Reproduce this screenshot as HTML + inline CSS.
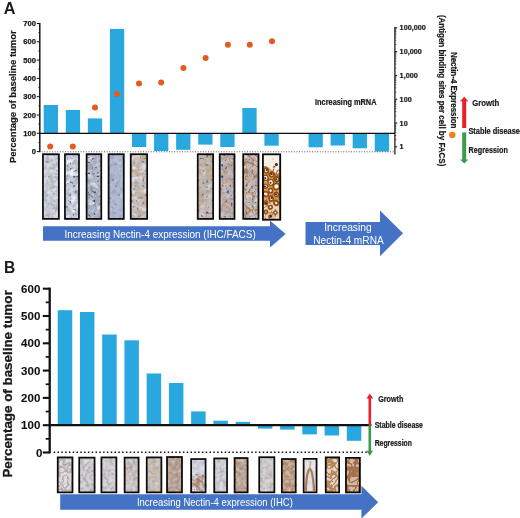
<!DOCTYPE html>
<html lang="en"><head><meta charset="utf-8"><title>Figure</title>
<style>
html,body{margin:0;padding:0;background:#fff;}
body{width:520px;height:518px;overflow:hidden;font-family:'Liberation Sans', sans-serif;}
svg{display:block;font-family:'Liberation Sans', sans-serif;}
</style></head><body>
<svg width="520" height="518" viewBox="0 0 520 518">
<rect width="520" height="518" fill="#fff"/>
<defs>
<filter id="tb" x="0" y="0" width="100%" height="100%" color-interpolation-filters="sRGB"><feTurbulence type="fractalNoise" baseFrequency="0.2" numOctaves="2" seed="4" result="n"/><feColorMatrix in="n" values="0 0 0 0 0.55  0 0 0 0 0.60  0 0 0 0 0.71  2.8 0 0 0 -1.2"/><feComposite in2="SourceGraphic" operator="in"/></filter>
<filter id="tg" x="0" y="0" width="100%" height="100%" color-interpolation-filters="sRGB"><feTurbulence type="fractalNoise" baseFrequency="0.3" numOctaves="2" seed="17" result="n"/><feColorMatrix in="n" values="0 0 0 0 0.56  0 0 0 0 0.54  0 0 0 0 0.57  3.0 0 0 0 -1.25"/><feComposite in2="SourceGraphic" operator="in"/></filter>
<filter id="td" x="0" y="0" width="100%" height="100%" color-interpolation-filters="sRGB"><feTurbulence type="fractalNoise" baseFrequency="0.33" numOctaves="1" seed="21" result="n"/><feColorMatrix in="n" values="0 0 0 0 0.20  0 0 0 0 0.22  0 0 0 0 0.34  0 8 0 0 -5.05"/><feComposite in2="SourceGraphic" operator="in"/></filter>
<filter id="tw" x="0" y="0" width="100%" height="100%" color-interpolation-filters="sRGB"><feTurbulence type="fractalNoise" baseFrequency="0.17" numOctaves="2" seed="9" result="n"/><feColorMatrix in="n" values="0 0 0 0 0.97  0 0 0 0 0.97  0 0 0 0 0.98  0 0 3.6 0 -1.75"/><feComposite in2="SourceGraphic" operator="in"/></filter>
<filter id="tt" x="0" y="0" width="100%" height="100%" color-interpolation-filters="sRGB"><feTurbulence type="fractalNoise" baseFrequency="0.14 0.08" numOctaves="2" seed="41" result="n"/><feColorMatrix in="n" values="0 0 0 0 0.75  0 0 0 0 0.65  0 0 0 0 0.54  0 3.0 0 0 -1.2"/><feComposite in2="SourceGraphic" operator="in"/></filter>
<filter id="tr" x="0" y="0" width="100%" height="100%" color-interpolation-filters="sRGB"><feTurbulence type="turbulence" baseFrequency="0.15" numOctaves="2" seed="14" result="n"/><feColorMatrix in="n" values="0 0 0 0 0.68  0 0 0 0 0.41  0 0 0 0 0.18  -6 0 0 0 1.2"/><feComposite in2="SourceGraphic" operator="in"/></filter>
<filter id="tr2" x="0" y="0" width="100%" height="100%" color-interpolation-filters="sRGB"><feTurbulence type="turbulence" baseFrequency="0.3" numOctaves="2" seed="52" result="n"/><feColorMatrix in="n" values="0 0 0 0 0.60  0 0 0 0 0.39  0 0 0 0 0.24  -4.5 0 0 0 1.2"/><feComposite in2="SourceGraphic" operator="in"/></filter>
<filter id="tbr" x="0" y="0" width="100%" height="100%" color-interpolation-filters="sRGB"><feTurbulence type="fractalNoise" baseFrequency="0.24" numOctaves="2" seed="77" result="n"/><feColorMatrix in="n" values="0 0 0 0 0.66  0 0 0 0 0.51  0 0 0 0 0.41  0 0 3.2 0 -1.3"/><feComposite in2="SourceGraphic" operator="in"/></filter>
<filter id="bl" x="-20%" y="-20%" width="140%" height="140%"><feGaussianBlur stdDeviation="0.5"/></filter>
<filter id="tc" x="0" y="0" width="100%" height="100%" color-interpolation-filters="sRGB"><feTurbulence type="turbulence" baseFrequency="0.22" numOctaves="1" seed="33" result="n"/><feColorMatrix in="n" values="0 0 0 0 0.97  0 0 0 0 0.95  0 0 0 0 0.94  0 9 0 0 -1.1"/><feComposite in2="SourceGraphic" operator="in"/></filter>
</defs>
<text x="3.8" y="14.1" font-size="16.2" font-weight="bold" fill="#1a1a1a" text-anchor="start" >A</text>
<text x="15.5" y="163.0" font-size="9.0" font-weight="bold" fill="#1a1a1a" text-anchor="start" textLength="132.8" lengthAdjust="spacingAndGlyphs" transform="rotate(-90 15.5 163.0)"  stroke="#1a1a1a" stroke-width="0.22">Percentage of baseline tumor</text>
<line x1="39.8" y1="23.00" x2="39.8" y2="152.3" stroke="#111" stroke-width="1.45"/>
<line x1="36.8" y1="151.60" x2="39.8" y2="151.60" stroke="#111" stroke-width="1"/>
<text x="35.9" y="154.2" font-size="7.6" font-weight="bold" fill="#1a1a1a" text-anchor="end" stroke="#1a1a1a" stroke-width="0.25">0</text>
<line x1="38.4" y1="142.45" x2="39.8" y2="142.45" stroke="#111" stroke-width="0.8"/>
<line x1="36.8" y1="133.30" x2="39.8" y2="133.30" stroke="#111" stroke-width="1"/>
<text x="35.9" y="135.9" font-size="7.6" font-weight="bold" fill="#1a1a1a" text-anchor="end" stroke="#1a1a1a" stroke-width="0.25">100</text>
<line x1="38.4" y1="124.15" x2="39.8" y2="124.15" stroke="#111" stroke-width="0.8"/>
<line x1="36.8" y1="115.00" x2="39.8" y2="115.00" stroke="#111" stroke-width="1"/>
<text x="35.9" y="117.6" font-size="7.6" font-weight="bold" fill="#1a1a1a" text-anchor="end" stroke="#1a1a1a" stroke-width="0.25">200</text>
<line x1="38.4" y1="105.85" x2="39.8" y2="105.85" stroke="#111" stroke-width="0.8"/>
<line x1="36.8" y1="96.70" x2="39.8" y2="96.70" stroke="#111" stroke-width="1"/>
<text x="35.9" y="99.3" font-size="7.6" font-weight="bold" fill="#1a1a1a" text-anchor="end" stroke="#1a1a1a" stroke-width="0.25">300</text>
<line x1="38.4" y1="87.55" x2="39.8" y2="87.55" stroke="#111" stroke-width="0.8"/>
<line x1="36.8" y1="78.40" x2="39.8" y2="78.40" stroke="#111" stroke-width="1"/>
<text x="35.9" y="81.0" font-size="7.6" font-weight="bold" fill="#1a1a1a" text-anchor="end" stroke="#1a1a1a" stroke-width="0.25">400</text>
<line x1="38.4" y1="69.25" x2="39.8" y2="69.25" stroke="#111" stroke-width="0.8"/>
<line x1="36.8" y1="60.10" x2="39.8" y2="60.10" stroke="#111" stroke-width="1"/>
<text x="35.9" y="62.7" font-size="7.6" font-weight="bold" fill="#1a1a1a" text-anchor="end" stroke="#1a1a1a" stroke-width="0.25">500</text>
<line x1="38.4" y1="50.95" x2="39.8" y2="50.95" stroke="#111" stroke-width="0.8"/>
<line x1="36.8" y1="41.80" x2="39.8" y2="41.80" stroke="#111" stroke-width="1"/>
<text x="35.9" y="44.4" font-size="7.6" font-weight="bold" fill="#1a1a1a" text-anchor="end" stroke="#1a1a1a" stroke-width="0.25">600</text>
<line x1="38.4" y1="32.65" x2="39.8" y2="32.65" stroke="#111" stroke-width="0.8"/>
<line x1="36.8" y1="23.50" x2="39.8" y2="23.50" stroke="#111" stroke-width="1"/>
<text x="35.9" y="26.1" font-size="7.6" font-weight="bold" fill="#1a1a1a" text-anchor="end" stroke="#1a1a1a" stroke-width="0.25">700</text>
<rect x="43.70" y="105.00" width="14.3" height="28.30" fill="#29a8e0"/>
<rect x="65.77" y="110.00" width="14.3" height="23.30" fill="#29a8e0"/>
<rect x="87.84" y="118.40" width="14.3" height="14.90" fill="#29a8e0"/>
<rect x="109.91" y="28.90" width="14.3" height="104.40" fill="#29a8e0"/>
<rect x="131.98" y="133.30" width="14.3" height="13.70" fill="#29a8e0"/>
<rect x="154.05" y="133.30" width="14.3" height="17.70" fill="#29a8e0"/>
<rect x="176.12" y="133.30" width="14.3" height="16.50" fill="#29a8e0"/>
<rect x="198.19" y="133.30" width="14.3" height="11.30" fill="#29a8e0"/>
<rect x="220.26" y="133.30" width="14.3" height="13.70" fill="#29a8e0"/>
<rect x="242.33" y="108.00" width="14.3" height="25.30" fill="#29a8e0"/>
<rect x="264.40" y="133.30" width="14.3" height="12.40" fill="#29a8e0"/>
<rect x="308.54" y="133.30" width="14.3" height="14.00" fill="#29a8e0"/>
<rect x="330.61" y="133.30" width="14.3" height="12.20" fill="#29a8e0"/>
<rect x="352.68" y="133.30" width="14.3" height="15.00" fill="#29a8e0"/>
<rect x="374.75" y="133.30" width="14.3" height="18.20" fill="#29a8e0"/>
<line x1="39.8" y1="133.3" x2="395" y2="133.3" stroke="#0c0c0c" stroke-width="1.3"/>
<line x1="41.6" y1="151.8" x2="394" y2="151.8" stroke="#444" stroke-width="0.9" stroke-dasharray="1 1.6"/>
<line x1="394.9" y1="27" x2="394.9" y2="154.6" stroke="#111" stroke-width="1.2"/>
<line x1="394.9" y1="146.80" x2="397.2" y2="146.80" stroke="#111" stroke-width="1"/>
<line x1="394.9" y1="139.64" x2="396.3" y2="139.64" stroke="#111" stroke-width="0.6"/>
<line x1="394.9" y1="135.44" x2="396.3" y2="135.44" stroke="#111" stroke-width="0.6"/>
<line x1="394.9" y1="132.47" x2="396.3" y2="132.47" stroke="#111" stroke-width="0.6"/>
<line x1="394.9" y1="130.16" x2="396.3" y2="130.16" stroke="#111" stroke-width="0.6"/>
<line x1="394.9" y1="128.28" x2="396.3" y2="128.28" stroke="#111" stroke-width="0.6"/>
<line x1="394.9" y1="126.69" x2="396.3" y2="126.69" stroke="#111" stroke-width="0.6"/>
<line x1="394.9" y1="125.31" x2="396.3" y2="125.31" stroke="#111" stroke-width="0.6"/>
<line x1="394.9" y1="124.09" x2="396.3" y2="124.09" stroke="#111" stroke-width="0.6"/>
<line x1="394.9" y1="123.00" x2="397.2" y2="123.00" stroke="#111" stroke-width="1"/>
<line x1="394.9" y1="115.84" x2="396.3" y2="115.84" stroke="#111" stroke-width="0.6"/>
<line x1="394.9" y1="111.64" x2="396.3" y2="111.64" stroke="#111" stroke-width="0.6"/>
<line x1="394.9" y1="108.67" x2="396.3" y2="108.67" stroke="#111" stroke-width="0.6"/>
<line x1="394.9" y1="106.36" x2="396.3" y2="106.36" stroke="#111" stroke-width="0.6"/>
<line x1="394.9" y1="104.48" x2="396.3" y2="104.48" stroke="#111" stroke-width="0.6"/>
<line x1="394.9" y1="102.89" x2="396.3" y2="102.89" stroke="#111" stroke-width="0.6"/>
<line x1="394.9" y1="101.51" x2="396.3" y2="101.51" stroke="#111" stroke-width="0.6"/>
<line x1="394.9" y1="100.29" x2="396.3" y2="100.29" stroke="#111" stroke-width="0.6"/>
<line x1="394.9" y1="99.20" x2="397.2" y2="99.20" stroke="#111" stroke-width="1"/>
<line x1="394.9" y1="92.04" x2="396.3" y2="92.04" stroke="#111" stroke-width="0.6"/>
<line x1="394.9" y1="87.84" x2="396.3" y2="87.84" stroke="#111" stroke-width="0.6"/>
<line x1="394.9" y1="84.87" x2="396.3" y2="84.87" stroke="#111" stroke-width="0.6"/>
<line x1="394.9" y1="82.56" x2="396.3" y2="82.56" stroke="#111" stroke-width="0.6"/>
<line x1="394.9" y1="80.68" x2="396.3" y2="80.68" stroke="#111" stroke-width="0.6"/>
<line x1="394.9" y1="79.09" x2="396.3" y2="79.09" stroke="#111" stroke-width="0.6"/>
<line x1="394.9" y1="77.71" x2="396.3" y2="77.71" stroke="#111" stroke-width="0.6"/>
<line x1="394.9" y1="76.49" x2="396.3" y2="76.49" stroke="#111" stroke-width="0.6"/>
<line x1="394.9" y1="75.40" x2="397.2" y2="75.40" stroke="#111" stroke-width="1"/>
<line x1="394.9" y1="68.24" x2="396.3" y2="68.24" stroke="#111" stroke-width="0.6"/>
<line x1="394.9" y1="64.04" x2="396.3" y2="64.04" stroke="#111" stroke-width="0.6"/>
<line x1="394.9" y1="61.07" x2="396.3" y2="61.07" stroke="#111" stroke-width="0.6"/>
<line x1="394.9" y1="58.76" x2="396.3" y2="58.76" stroke="#111" stroke-width="0.6"/>
<line x1="394.9" y1="56.88" x2="396.3" y2="56.88" stroke="#111" stroke-width="0.6"/>
<line x1="394.9" y1="55.29" x2="396.3" y2="55.29" stroke="#111" stroke-width="0.6"/>
<line x1="394.9" y1="53.91" x2="396.3" y2="53.91" stroke="#111" stroke-width="0.6"/>
<line x1="394.9" y1="52.69" x2="396.3" y2="52.69" stroke="#111" stroke-width="0.6"/>
<line x1="394.9" y1="51.60" x2="397.2" y2="51.60" stroke="#111" stroke-width="1"/>
<line x1="394.9" y1="44.44" x2="396.3" y2="44.44" stroke="#111" stroke-width="0.6"/>
<line x1="394.9" y1="40.24" x2="396.3" y2="40.24" stroke="#111" stroke-width="0.6"/>
<line x1="394.9" y1="37.27" x2="396.3" y2="37.27" stroke="#111" stroke-width="0.6"/>
<line x1="394.9" y1="34.96" x2="396.3" y2="34.96" stroke="#111" stroke-width="0.6"/>
<line x1="394.9" y1="33.08" x2="396.3" y2="33.08" stroke="#111" stroke-width="0.6"/>
<line x1="394.9" y1="31.49" x2="396.3" y2="31.49" stroke="#111" stroke-width="0.6"/>
<line x1="394.9" y1="30.11" x2="396.3" y2="30.11" stroke="#111" stroke-width="0.6"/>
<line x1="394.9" y1="28.89" x2="396.3" y2="28.89" stroke="#111" stroke-width="0.6"/>
<line x1="394.9" y1="27.80" x2="397.2" y2="27.80" stroke="#111" stroke-width="1"/>
<text x="399.6" y="149.4" font-size="7.25" font-weight="bold" fill="#1a1a1a" text-anchor="start"  stroke="#1a1a1a" stroke-width="0.22">1</text>
<text x="399.6" y="125.6" font-size="7.25" font-weight="bold" fill="#1a1a1a" text-anchor="start"  stroke="#1a1a1a" stroke-width="0.22">10</text>
<text x="399.6" y="101.8" font-size="7.25" font-weight="bold" fill="#1a1a1a" text-anchor="start"  stroke="#1a1a1a" stroke-width="0.22">100</text>
<text x="399.6" y="78.0" font-size="7.25" font-weight="bold" fill="#1a1a1a" text-anchor="start"  stroke="#1a1a1a" stroke-width="0.22">1,000</text>
<text x="399.6" y="54.2" font-size="7.25" font-weight="bold" fill="#1a1a1a" text-anchor="start"  stroke="#1a1a1a" stroke-width="0.22">10,000</text>
<text x="399.6" y="30.4" font-size="7.25" font-weight="bold" fill="#1a1a1a" text-anchor="start"  stroke="#1a1a1a" stroke-width="0.22">100,000</text>
<circle cx="50.2" cy="146.6" r="3.0" fill="#e55a1f"/>
<circle cx="72.8" cy="146.6" r="3.0" fill="#e55a1f"/>
<circle cx="95" cy="107.5" r="3.0" fill="#e55a1f"/>
<circle cx="117" cy="94" r="3.0" fill="#e55a1f"/>
<circle cx="139" cy="83.4" r="3.0" fill="#e55a1f"/>
<circle cx="161.2" cy="82.4" r="3.0" fill="#e55a1f"/>
<circle cx="183.4" cy="68.1" r="3.0" fill="#e55a1f"/>
<circle cx="205.6" cy="57.9" r="3.0" fill="#e55a1f"/>
<circle cx="227.9" cy="44.8" r="3.0" fill="#e55a1f"/>
<circle cx="249.8" cy="44.8" r="3.0" fill="#e55a1f"/>
<circle cx="272" cy="41.2" r="3.0" fill="#e55a1f"/>
<text x="315" y="104.6" font-size="8.6" font-weight="bold" fill="#1a1a1a" text-anchor="start" textLength="61.5" lengthAdjust="spacingAndGlyphs"  stroke="#1a1a1a" stroke-width="0.22">Increasing mRNA</text>
<text x="438.6" y="14.9" font-size="9.2" font-weight="bold" fill="#1a1a1a" text-anchor="start" textLength="151.4" lengthAdjust="spacingAndGlyphs" transform="rotate(90 438.6 14.9)"  stroke="#1a1a1a" stroke-width="0.22">(Antigen binding sites per cell by FACS)</text>
<text x="450.6" y="51.9" font-size="9.2" font-weight="bold" fill="#1a1a1a" text-anchor="start" textLength="76.6" lengthAdjust="spacingAndGlyphs" transform="rotate(90 450.6 51.9)"  stroke="#1a1a1a" stroke-width="0.22">Nectin-4 Expression</text>
<ellipse cx="452.3" cy="134.9" rx="3.2" ry="3.2" fill="#f07f1e"/>
<polygon points="462.2,128 462.2,101.2 460.0,101.2 464.2,96.8 468.4,101.2 466.2,101.2 466.2,128" fill="#e8202a"/>
<polygon points="462.2,132.6 462.2,159.4 460.0,159.4 464.2,163.4 468.4,159.4 466.2,159.4 466.2,132.6" fill="#3c9a4a"/>
<text x="472.2" y="106.4" font-size="8.6" font-weight="bold" fill="#1a1a1a" text-anchor="start" textLength="27" lengthAdjust="spacingAndGlyphs"  stroke="#1a1a1a" stroke-width="0.22">Growth</text>
<text x="468.4" y="133.8" font-size="8.6" font-weight="bold" fill="#1a1a1a" text-anchor="start" textLength="51.6" lengthAdjust="spacingAndGlyphs"  stroke="#1a1a1a" stroke-width="0.22">Stable disease</text>
<text x="468.6" y="153.3" font-size="8.6" font-weight="bold" fill="#1a1a1a" text-anchor="start" textLength="39.2" lengthAdjust="spacingAndGlyphs"  stroke="#1a1a1a" stroke-width="0.22">Regression</text>
<g>
<rect x="42.10" y="153.40" width="17.60" height="66.30" fill="#d3d5dd"/>
<rect x="42.10" y="153.40" width="17.60" height="66.30" fill="#fff" filter="url(#tg)" opacity="0.4"/>
<rect x="42.10" y="153.40" width="17.60" height="66.30" fill="#fff" filter="url(#tb)" opacity="0.5"/>
<rect x="42.10" y="153.40" width="17.60" height="66.30" fill="#fff" filter="url(#tw)" opacity="0.4"/>
<rect x="42.10" y="153.40" width="17.60" height="66.30" fill="#fff" filter="url(#td)" opacity="0.3"/>
<rect x="42.95" y="154.25" width="15.90" height="64.60" fill="none" stroke="#0a0a0a" stroke-width="1.7"/>
</g>
<g>
<rect x="64.10" y="153.40" width="15.70" height="66.30" fill="#c7cbd8"/>
<rect x="64.10" y="153.40" width="15.70" height="66.30" fill="#fff" filter="url(#tb)" opacity="0.8"/>
<rect x="64.10" y="153.40" width="15.70" height="66.30" fill="#fff" filter="url(#tw)" opacity="0.9"/>
<rect x="64.10" y="153.40" width="15.70" height="66.30" fill="#fff" filter="url(#td)" opacity="0.85"/>
<rect x="64.95" y="154.25" width="14.00" height="64.60" fill="none" stroke="#0a0a0a" stroke-width="1.7"/>
</g>
<g>
<rect x="85.80" y="153.40" width="16.30" height="66.30" fill="#b9becd"/>
<rect x="85.80" y="153.40" width="16.30" height="66.30" fill="#fff" filter="url(#tg)" opacity="0.5"/>
<rect x="85.80" y="153.40" width="16.30" height="66.30" fill="#fff" filter="url(#tb)" opacity="0.9"/>
<rect x="85.80" y="153.40" width="16.30" height="66.30" fill="#fff" filter="url(#tw)" opacity="0.7"/>
<rect x="85.80" y="153.40" width="16.30" height="66.30" fill="#fff" filter="url(#td)" opacity="1.0"/>
<rect x="86.65" y="154.25" width="14.60" height="64.60" fill="none" stroke="#0a0a0a" stroke-width="1.7"/>
</g>
<g>
<rect x="107.80" y="153.40" width="16.80" height="66.30" fill="#b0b9d1"/>
<rect x="107.80" y="153.40" width="16.80" height="66.30" fill="#fff" filter="url(#tb)" opacity="0.6"/>
<rect x="107.80" y="153.40" width="16.80" height="66.30" fill="#fff" filter="url(#tw)" opacity="0.2"/>
<rect x="107.80" y="153.40" width="16.80" height="66.30" fill="#fff" filter="url(#td)" opacity="0.3"/>
<rect x="108.65" y="154.25" width="15.10" height="64.60" fill="none" stroke="#0a0a0a" stroke-width="1.7"/>
</g>
<g>
<rect x="129.90" y="153.40" width="18.10" height="66.30" fill="#cdc6c4"/>
<rect x="129.90" y="153.40" width="18.10" height="66.30" fill="#fff" filter="url(#tb)" opacity="0.6"/>
<rect x="129.90" y="153.40" width="18.10" height="66.30" fill="#fff" filter="url(#tt)" opacity="0.85"/>
<rect x="129.90" y="153.40" width="18.10" height="66.30" fill="#fff" filter="url(#tw)" opacity="0.7"/>
<rect x="129.90" y="153.40" width="18.10" height="66.30" fill="#fff" filter="url(#td)" opacity="0.55"/>
<rect x="130.75" y="154.25" width="16.40" height="64.60" fill="none" stroke="#0a0a0a" stroke-width="1.7"/>
</g>
<g>
<rect x="196.90" y="153.40" width="17.10" height="66.30" fill="#c6bfbb"/>
<rect x="196.90" y="153.40" width="17.10" height="66.30" fill="#fff" filter="url(#tb)" opacity="0.5"/>
<rect x="196.90" y="153.40" width="17.10" height="66.30" fill="#fff" filter="url(#tt)" opacity="0.75"/>
<rect x="196.90" y="153.40" width="17.10" height="66.30" fill="#fff" filter="url(#tw)" opacity="0.3"/>
<rect x="196.90" y="153.40" width="17.10" height="66.30" fill="#fff" filter="url(#tr)" opacity="0.2"/>
<rect x="196.90" y="153.40" width="17.10" height="66.30" fill="#fff" filter="url(#td)" opacity="0.7"/>
<rect x="197.75" y="154.25" width="15.40" height="64.60" fill="none" stroke="#0a0a0a" stroke-width="1.7"/>
</g>
<g>
<rect x="218.90" y="153.40" width="16.40" height="66.30" fill="#bdb5b6"/>
<rect x="218.90" y="153.40" width="16.40" height="66.30" fill="#fff" filter="url(#tb)" opacity="0.6"/>
<rect x="218.90" y="153.40" width="16.40" height="66.30" fill="#fff" filter="url(#tt)" opacity="0.65"/>
<rect x="218.90" y="153.40" width="16.40" height="66.30" fill="#fff" filter="url(#tw)" opacity="0.3"/>
<rect x="218.90" y="153.40" width="16.40" height="66.30" fill="#fff" filter="url(#tr)" opacity="0.4"/>
<rect x="218.90" y="153.40" width="16.40" height="66.30" fill="#fff" filter="url(#td)" opacity="0.8"/>
<rect x="219.75" y="154.25" width="14.70" height="64.60" fill="none" stroke="#0a0a0a" stroke-width="1.7"/>
</g>
<g>
<rect x="242.40" y="153.40" width="16.90" height="66.30" fill="#c3bab9"/>
<rect x="242.40" y="153.40" width="16.90" height="66.30" fill="#fff" filter="url(#tb)" opacity="0.65"/>
<rect x="242.40" y="153.40" width="16.90" height="66.30" fill="#fff" filter="url(#tt)" opacity="0.3"/>
<rect x="242.40" y="153.40" width="16.90" height="66.30" fill="#fff" filter="url(#tw)" opacity="0.5"/>
<rect x="242.40" y="153.40" width="16.90" height="66.30" fill="#fff" filter="url(#tr)" opacity="0.85"/>
<rect x="242.40" y="153.40" width="16.90" height="66.30" fill="#fff" filter="url(#td)" opacity="0.45"/>
<rect x="243.25" y="154.25" width="15.20" height="64.60" fill="none" stroke="#0a0a0a" stroke-width="1.7"/>
</g>
<g>
<rect x="262" y="153.4" width="19.1" height="67.20" fill="#f7f0e9"/>
<polygon points="262,166 268,167 274,172 281.1,176 281.1,205 262,212" fill="#d9a055"/>
<polygon points="262,205 281.1,200 281.1,220.6 262,220.6" fill="#ead3b8"/>
<rect x="262" y="166" width="19.1" height="54" fill="#fff" filter="url(#tr)" opacity="0.9"/>
<ellipse cx="266.3" cy="170.5" rx="2.5" ry="2.03" fill="#fbf4ec" stroke="#8f4a12" stroke-width="1.46" transform="rotate(83 266.3 170.5)"/>
<circle cx="266.75" cy="169.93" r="1.0" fill="#35200f"/>
<ellipse cx="271.8" cy="174.5" rx="2.0" ry="2.23" fill="#fbf4ec" stroke="#8f4a12" stroke-width="1.67" transform="rotate(27 271.8 174.5)"/>
<circle cx="271.71" cy="173.90" r="1.0" fill="#35200f"/>
<ellipse cx="265.6" cy="177.8" rx="2.6" ry="2.39" fill="#fbf4ec" stroke="#8f4a12" stroke-width="1.27" transform="rotate(72 265.6 177.8)"/>
<circle cx="265.21" cy="177.98" r="1.0" fill="#35200f"/>
<ellipse cx="276.8" cy="179.2" rx="2.4" ry="2.35" fill="#fbf4ec" stroke="#8f4a12" stroke-width="1.96" transform="rotate(50 276.8 179.2)"/>
<circle cx="276.41" cy="179.28" r="1.0" fill="#35200f"/>
<ellipse cx="270.8" cy="182.4" rx="3.0" ry="2.75" fill="#fbf4ec" stroke="#8f4a12" stroke-width="1.31" transform="rotate(69 270.8 182.4)"/>
<circle cx="270.53" cy="182.84" r="1.0" fill="#35200f"/>
<ellipse cx="265.4" cy="186.2" rx="2.1" ry="2.06" fill="#fbf4ec" stroke="#8f4a12" stroke-width="1.34" transform="rotate(81 265.4 186.2)"/>
<circle cx="264.84" cy="186.50" r="1.0" fill="#35200f"/>
<ellipse cx="276.4" cy="186.4" rx="3.0" ry="2.99" fill="#fbf4ec" stroke="#8f4a12" stroke-width="1.65" transform="rotate(63 276.4 186.4)"/>
<ellipse cx="270.6" cy="190.6" rx="2.2" ry="1.93" fill="#fbf4ec" stroke="#8f4a12" stroke-width="1.54" transform="rotate(74 270.6 190.6)"/>
<ellipse cx="265.8" cy="194" rx="2.6" ry="2.21" fill="#fbf4ec" stroke="#8f4a12" stroke-width="1.49" transform="rotate(23 265.8 194)"/>
<ellipse cx="276.3" cy="194.4" rx="2.0" ry="1.96" fill="#fbf4ec" stroke="#8f4a12" stroke-width="1.40" transform="rotate(67 276.3 194.4)"/>
<circle cx="276.08" cy="194.33" r="1.0" fill="#35200f"/>
<ellipse cx="271.2" cy="198.4" rx="2.6" ry="2.03" fill="#fbf4ec" stroke="#8f4a12" stroke-width="1.69" transform="rotate(65 271.2 198.4)"/>
<circle cx="271.56" cy="197.91" r="1.0" fill="#35200f"/>
<ellipse cx="266" cy="202.6" rx="1.9" ry="1.45" fill="#fbf4ec" stroke="#8f4a12" stroke-width="1.59" transform="rotate(85 266 202.6)"/>
<circle cx="266.08" cy="203.00" r="1.0" fill="#35200f"/>
<ellipse cx="276.2" cy="203" rx="2.3" ry="2.04" fill="#fbf4ec" stroke="#8f4a12" stroke-width="1.85" transform="rotate(44 276.2 203)"/>
<ellipse cx="270.4" cy="207.2" rx="1.8" ry="1.68" fill="#fbf4ec" stroke="#8f4a12" stroke-width="1.66" transform="rotate(11 270.4 207.2)"/>
<ellipse cx="266" cy="212" rx="1.6" ry="1.63" fill="#fbf4ec" stroke="#8f4a12" stroke-width="1.58" transform="rotate(7 266 212)"/>
<ellipse cx="275.4" cy="212.6" rx="1.7" ry="1.67" fill="#fbf4ec" stroke="#8f4a12" stroke-width="1.45" transform="rotate(87 275.4 212.6)"/>
<ellipse cx="270" cy="216.5" rx="1.3" ry="1.18" fill="#fbf4ec" stroke="#8f4a12" stroke-width="1.43" transform="rotate(85 270 216.5)"/>
<circle cx="270.62" cy="216.30" r="1.0" fill="#35200f"/>
<circle cx="276.4" cy="164.4" r="1.5" fill="#3a2616"/><circle cx="274.6" cy="166.6" r="0.9" fill="#7a5030"/><circle cx="273" cy="159" r="0.6" fill="#b9987a"/>
<rect x="262.9" y="154.3" width="17.3" height="65.40" fill="none" stroke="#0a0a0a" stroke-width="1.8"/>
</g>
<polygon points="43,226.2 270,226.2 270,220.4 285.6,234.0 270,247.6 270,240.8 43,240.8" fill="#4472c4"/>
<polygon points="305.5,222 380,222 380,210.4 403,233.3 380,256.2 380,245 305.5,245" fill="#4472c4"/>
<text x="64.5" y="238.1" font-size="11.3" font-weight="normal" fill="#fff" text-anchor="start" textLength="191.2" lengthAdjust="spacingAndGlyphs" >Increasing Nectin-4 expression (IHC/FACS)</text>
<text x="348" y="231.4" font-size="11.3" font-weight="normal" fill="#fff" text-anchor="middle" textLength="47.5" lengthAdjust="spacingAndGlyphs" >Increasing</text>
<text x="348.5" y="244.0" font-size="11.3" font-weight="normal" fill="#fff" text-anchor="middle" textLength="70.5" lengthAdjust="spacingAndGlyphs" >Nectin-4 mRNA</text>
<text x="4.1" y="273.3" font-size="15.6" font-weight="bold" fill="#1a1a1a" text-anchor="start" >B</text>
<text x="11.6" y="477.6" font-size="13" font-weight="bold" fill="#1a1a1a" text-anchor="start" textLength="187.2" lengthAdjust="spacingAndGlyphs" transform="rotate(-90 11.6 477.6)" stroke="#1a1a1a" stroke-width="0.3">Percentage of baseline tumor</text>
<line x1="49.7" y1="287.60" x2="49.7" y2="453.3" stroke="#111" stroke-width="2.3"/>
<line x1="42.8" y1="452.50" x2="49.7" y2="452.50" stroke="#111" stroke-width="2.1"/>
<text x="42.4" y="456.65" font-size="11.5" font-weight="bold" fill="#111" text-anchor="end" stroke="#111" stroke-width="0.1">0</text>
<line x1="45.7" y1="438.85" x2="49.7" y2="438.85" stroke="#111" stroke-width="1.7"/>
<line x1="42.8" y1="425.20" x2="49.7" y2="425.20" stroke="#111" stroke-width="2.1"/>
<text x="40.3" y="429.35" font-size="11.5" font-weight="bold" fill="#111" text-anchor="end" stroke="#111" stroke-width="0.1">100</text>
<line x1="45.7" y1="411.55" x2="49.7" y2="411.55" stroke="#111" stroke-width="1.7"/>
<line x1="42.8" y1="397.90" x2="49.7" y2="397.90" stroke="#111" stroke-width="2.1"/>
<text x="40.3" y="402.05" font-size="11.5" font-weight="bold" fill="#111" text-anchor="end" stroke="#111" stroke-width="0.1">200</text>
<line x1="45.7" y1="384.25" x2="49.7" y2="384.25" stroke="#111" stroke-width="1.7"/>
<line x1="42.8" y1="370.60" x2="49.7" y2="370.60" stroke="#111" stroke-width="2.1"/>
<text x="40.3" y="374.75" font-size="11.5" font-weight="bold" fill="#111" text-anchor="end" stroke="#111" stroke-width="0.1">300</text>
<line x1="45.7" y1="356.95" x2="49.7" y2="356.95" stroke="#111" stroke-width="1.7"/>
<line x1="42.8" y1="343.30" x2="49.7" y2="343.30" stroke="#111" stroke-width="2.1"/>
<text x="40.3" y="347.45" font-size="11.5" font-weight="bold" fill="#111" text-anchor="end" stroke="#111" stroke-width="0.1">400</text>
<line x1="45.7" y1="329.65" x2="49.7" y2="329.65" stroke="#111" stroke-width="1.7"/>
<line x1="42.8" y1="316.00" x2="49.7" y2="316.00" stroke="#111" stroke-width="2.1"/>
<text x="40.3" y="320.15" font-size="11.5" font-weight="bold" fill="#111" text-anchor="end" stroke="#111" stroke-width="0.1">500</text>
<line x1="45.7" y1="302.35" x2="49.7" y2="302.35" stroke="#111" stroke-width="1.7"/>
<line x1="42.8" y1="288.70" x2="49.7" y2="288.70" stroke="#111" stroke-width="2.1"/>
<text x="40.3" y="292.85" font-size="11.5" font-weight="bold" fill="#111" text-anchor="end" stroke="#111" stroke-width="0.1">600</text>
<rect x="57.70" y="310.20" width="14.5" height="115.00" fill="#29a8e0"/>
<rect x="79.94" y="312.00" width="14.5" height="113.20" fill="#29a8e0"/>
<rect x="102.18" y="334.50" width="14.5" height="90.70" fill="#29a8e0"/>
<rect x="124.42" y="340.30" width="14.5" height="84.90" fill="#29a8e0"/>
<rect x="146.66" y="373.50" width="14.5" height="51.70" fill="#29a8e0"/>
<rect x="168.90" y="383.00" width="14.5" height="42.20" fill="#29a8e0"/>
<rect x="191.14" y="411.40" width="14.5" height="13.80" fill="#29a8e0"/>
<rect x="213.38" y="420.70" width="14.5" height="4.50" fill="#29a8e0"/>
<rect x="235.62" y="421.90" width="14.5" height="3.30" fill="#29a8e0"/>
<rect x="257.86" y="425.20" width="14.5" height="3.40" fill="#29a8e0"/>
<rect x="280.10" y="425.20" width="14.5" height="4.40" fill="#29a8e0"/>
<rect x="302.34" y="425.20" width="14.5" height="9.20" fill="#29a8e0"/>
<rect x="324.58" y="425.20" width="14.5" height="10.30" fill="#29a8e0"/>
<rect x="346.82" y="425.20" width="14.5" height="15.60" fill="#29a8e0"/>
<line x1="49.7" y1="425.2" x2="371.4" y2="425.2" stroke="#111" stroke-width="2.3"/>
<line x1="53.7" y1="452.3" x2="367.5" y2="452.3" stroke="#111" stroke-width="1.6" stroke-dasharray="1.5 2.3"/>
<polygon points="368.5,425.2 368.5,398.6 366.5,398.6 369.8,393.4 373.1,398.6 371.1,398.6 371.1,425.2" fill="#e8202a"/>
<polygon points="368.5,425.2 368.5,450.8 366.5,450.8 369.8,456.0 373.1,450.8 371.1,450.8 371.1,425.2" fill="#3c9a4a"/>
<text x="378.2" y="402.3" font-size="8.6" font-weight="bold" fill="#1a1a1a" text-anchor="start" textLength="25.2" lengthAdjust="spacingAndGlyphs"  stroke="#1a1a1a" stroke-width="0.22">Growth</text>
<text x="374.7" y="428.1" font-size="8.6" font-weight="bold" fill="#1a1a1a" text-anchor="start" textLength="48.3" lengthAdjust="spacingAndGlyphs"  stroke="#1a1a1a" stroke-width="0.22">Stable disease</text>
<text x="374.7" y="446.2" font-size="8.6" font-weight="bold" fill="#1a1a1a" text-anchor="start" textLength="37.2" lengthAdjust="spacingAndGlyphs"  stroke="#1a1a1a" stroke-width="0.22">Regression</text>
<g>
<rect x="56.90" y="456.60" width="16.40" height="36.60" fill="#bdb9b9"/>
<rect x="56.90" y="456.60" width="16.40" height="36.60" fill="#fff" filter="url(#tg)" opacity="0.4"/>
<rect x="56.90" y="456.60" width="16.40" height="36.60" fill="#fff" filter="url(#tc)" opacity="0.62"/>
<rect x="56.90" y="456.60" width="16.40" height="36.60" fill="#fff" filter="url(#td)" opacity="0.1"/>
<rect x="57.75" y="457.45" width="14.70" height="34.90" fill="none" stroke="#0a0a0a" stroke-width="1.7"/>
</g>
<g>
<rect x="78.40" y="456.80" width="17.00" height="36.40" fill="#d2cfd2"/>
<rect x="78.40" y="456.80" width="17.00" height="36.40" fill="#fff" filter="url(#tg)" opacity="0.6"/>
<rect x="78.40" y="456.80" width="17.00" height="36.40" fill="#fff" filter="url(#tb)" opacity="0.15"/>
<rect x="78.40" y="456.80" width="17.00" height="36.40" fill="#fff" filter="url(#tw)" opacity="0.5"/>
<rect x="79.25" y="457.65" width="15.30" height="34.70" fill="none" stroke="#0a0a0a" stroke-width="1.7"/>
</g>
<g>
<rect x="100.60" y="456.60" width="16.60" height="36.60" fill="#d2d0d2"/>
<rect x="100.60" y="456.60" width="16.60" height="36.60" fill="#fff" filter="url(#tg)" opacity="0.5"/>
<rect x="100.60" y="456.60" width="16.60" height="36.60" fill="#fff" filter="url(#tw)" opacity="0.3"/>
<rect x="101.45" y="457.45" width="14.90" height="34.90" fill="none" stroke="#0a0a0a" stroke-width="1.7"/>
</g>
<g>
<rect x="123.80" y="456.80" width="15.60" height="36.40" fill="#cec9c9"/>
<rect x="123.80" y="456.80" width="15.60" height="36.40" fill="#fff" filter="url(#tg)" opacity="0.6"/>
<rect x="123.80" y="456.80" width="15.60" height="36.40" fill="#fff" filter="url(#tt)" opacity="0.3"/>
<rect x="123.80" y="456.80" width="15.60" height="36.40" fill="#fff" filter="url(#tw)" opacity="0.4"/>
<rect x="124.65" y="457.65" width="13.90" height="34.70" fill="none" stroke="#0a0a0a" stroke-width="1.7"/>
</g>
<g>
<rect x="145.90" y="456.60" width="16.30" height="36.60" fill="#cdc5c2"/>
<rect x="145.90" y="456.60" width="16.30" height="36.60" fill="#fff" filter="url(#tg)" opacity="0.5"/>
<rect x="145.90" y="456.60" width="16.30" height="36.60" fill="#fff" filter="url(#tt)" opacity="0.5"/>
<rect x="145.90" y="456.60" width="16.30" height="36.60" fill="#fff" filter="url(#tw)" opacity="0.3"/>
<rect x="146.75" y="457.45" width="14.60" height="34.90" fill="none" stroke="#0a0a0a" stroke-width="1.7"/>
</g>
<g>
<rect x="166.20" y="456.20" width="16.60" height="37.00" fill="#c3b2a8"/>
<rect x="166.20" y="456.20" width="16.60" height="37.00" fill="#fff" filter="url(#tg)" opacity="0.5"/>
<rect x="166.20" y="456.20" width="16.60" height="37.00" fill="#fff" filter="url(#tw)" opacity="0.2"/>
<rect x="166.20" y="456.20" width="16.60" height="37.00" fill="#fff" filter="url(#tbr)" opacity="0.6"/>
<rect x="166.20" y="456.20" width="16.60" height="37.00" fill="#fff" filter="url(#tr2)" opacity="0.12"/>
<rect x="167.05" y="457.05" width="14.90" height="35.30" fill="none" stroke="#0a0a0a" stroke-width="1.7"/>
</g>
<g>
<rect x="190.30" y="458.20" width="16.10" height="35.00" fill="#d3d5de"/>
<rect x="190.30" y="458.20" width="16.10" height="35.00" fill="#fff" filter="url(#tb)" opacity="0.45"/>
<rect x="190.30" y="458.20" width="16.10" height="35.00" fill="#fff" filter="url(#tw)" opacity="0.5"/>
<rect x="190.30" y="473.95" width="16.10" height="19.25" fill="#fff" filter="url(#tbr)" opacity="0.95"/>
<rect x="190.30" y="475.70" width="12.88" height="17.50" fill="#fff" filter="url(#tr2)" opacity="0.55"/>
<rect x="191.15" y="459.05" width="14.40" height="33.30" fill="none" stroke="#0a0a0a" stroke-width="1.7"/>
</g>
<g>
<rect x="213.40" y="457.60" width="14.50" height="35.60" fill="#d4d3d9"/>
<rect x="213.40" y="457.60" width="14.50" height="35.60" fill="#fff" filter="url(#tg)" opacity="0.45"/>
<rect x="213.40" y="457.60" width="14.50" height="35.60" fill="#fff" filter="url(#tb)" opacity="0.2"/>
<rect x="213.40" y="457.60" width="14.50" height="35.60" fill="#fff" filter="url(#tw)" opacity="0.3"/>
<rect x="214.25" y="458.45" width="12.80" height="33.90" fill="none" stroke="#0a0a0a" stroke-width="1.7"/>
</g>
<g>
<rect x="233.80" y="457.20" width="14.60" height="36.00" fill="#c5b3a8"/>
<rect x="233.80" y="457.20" width="14.60" height="36.00" fill="#fff" filter="url(#tg)" opacity="0.4"/>
<rect x="233.80" y="457.20" width="14.60" height="36.00" fill="#fff" filter="url(#tw)" opacity="0.3"/>
<rect x="233.80" y="457.20" width="14.60" height="36.00" fill="#fff" filter="url(#tbr)" opacity="0.7"/>
<rect x="233.80" y="457.20" width="14.60" height="36.00" fill="#fff" filter="url(#tr2)" opacity="0.2"/>
<rect x="234.65" y="458.05" width="12.90" height="34.30" fill="none" stroke="#0a0a0a" stroke-width="1.7"/>
</g>
<g>
<rect x="258.40" y="456.40" width="16.80" height="36.80" fill="#d5d1d3"/>
<rect x="258.40" y="456.40" width="16.80" height="36.80" fill="#fff" filter="url(#tg)" opacity="0.5"/>
<rect x="258.40" y="456.40" width="16.80" height="36.80" fill="#fff" filter="url(#tt)" opacity="0.2"/>
<rect x="258.40" y="456.40" width="16.80" height="36.80" fill="#fff" filter="url(#tw)" opacity="0.3"/>
<rect x="259.25" y="457.25" width="15.10" height="35.10" fill="none" stroke="#0a0a0a" stroke-width="1.7"/>
</g>
<g>
<rect x="281.00" y="458.20" width="15.50" height="35.00" fill="#c9b09c"/>
<rect x="281.00" y="458.20" width="15.50" height="35.00" fill="#fff" filter="url(#tw)" opacity="0.5"/>
<rect x="281.00" y="458.20" width="15.50" height="35.00" fill="#fff" filter="url(#tbr)" opacity="0.85"/>
<rect x="281.00" y="458.20" width="15.50" height="35.00" fill="#fff" filter="url(#tr2)" opacity="0.4"/>
<rect x="281.85" y="459.05" width="13.80" height="33.30" fill="none" stroke="#0a0a0a" stroke-width="1.7"/>
</g>
<g>
<rect x="302.80" y="458.00" width="14.60" height="35.20" fill="#e6e2e7"/>
<rect x="302.80" y="458.00" width="14.60" height="35.20" fill="#fff" filter="url(#tb)" opacity="0.2"/>
<rect x="302.80" y="458.00" width="14.60" height="35.20" fill="#fff" filter="url(#tw)" opacity="0.5"/>
<path d="M305.90,491.20 C306.10,479.12 307.10,471.38 309.80,468.56 C312.70,471.38 313.50,479.12 314.10,491.20" fill="none" stroke="#ad7d55" stroke-width="2.3" filter="url(#bl)"/>
<path d="M309.60,468.56 L310.60,461.00" fill="none" stroke="#c9a88c" stroke-width="1.4" filter="url(#bl)"/>
<rect x="303.65" y="458.85" width="12.90" height="33.50" fill="none" stroke="#0a0a0a" stroke-width="1.7"/>
</g>
<g>
<rect x="324.90" y="456.60" width="15.10" height="36.60" fill="#b98a5e"/>
<rect x="324.90" y="456.60" width="15.10" height="36.60" fill="#fff" filter="url(#tr2)" opacity="0.25"/>
<rect x="324.90" y="456.60" width="15.10" height="36.60" fill="#fff" filter="url(#tc)" opacity="0.72"/>
<rect x="325.75" y="457.45" width="13.40" height="34.90" fill="none" stroke="#0a0a0a" stroke-width="1.7"/>
</g>
<g>
<rect x="345.10" y="457.00" width="15.60" height="36.20" fill="#a5714a"/>
<rect x="345.10" y="457.00" width="15.60" height="36.20" fill="#fff" filter="url(#tr2)" opacity="0.4"/>
<rect x="345.10" y="457.00" width="15.60" height="36.20" fill="#fff" filter="url(#tc)" opacity="0.55"/>
<rect x="345.95" y="457.85" width="13.90" height="34.50" fill="none" stroke="#0a0a0a" stroke-width="1.7"/>
</g>
<polygon points="60.2,494.2 361.4,494.2 361.4,485.8 378.2,502.20000000000005 361.4,518.6 361.4,509.8 60.2,509.8" fill="#4472c4"/>
<text x="136.9" y="506.0" font-size="11.3" font-weight="normal" fill="#fff" text-anchor="start" textLength="156" lengthAdjust="spacingAndGlyphs" >Increasing Nectin-4 expression (IHC)</text>
</svg>
</body></html>
